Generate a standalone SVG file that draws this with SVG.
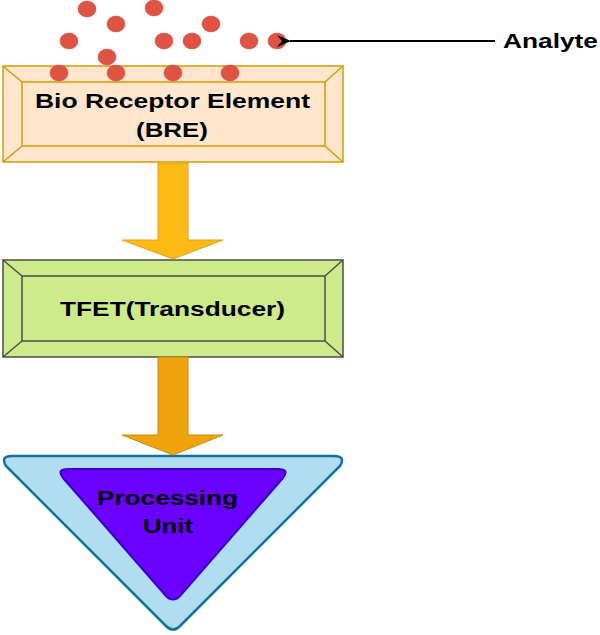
<svg xmlns="http://www.w3.org/2000/svg" width="600" height="635" viewBox="0 0 600 635">
<style>
.t{font-family:"Liberation Sans",Arial,sans-serif;font-weight:bold;fill:#000;font-size:20px}
.dot{fill:#E05243;stroke:#C8473A;stroke-width:0.5}
.bev1{stroke:#D79B00;stroke-width:1.5;fill:#FFE6CC}
.bev2{stroke:#4D4D4D;stroke-width:1.5;fill:#CDEB8B}
</style>
<defs>
<marker id="ah" markerWidth="14" markerHeight="12" refX="1" refY="6" orient="auto" markerUnits="userSpaceOnUse">
<path d="M14,0 L0,6 L14,12 L9,6 Z" fill="#000"/>
</marker>
</defs>
<g id="analyte-dots">
<ellipse class="dot" cx="87" cy="9" rx="9" ry="8"/>
<ellipse class="dot" cx="154" cy="8" rx="9" ry="8"/>
<ellipse class="dot" cx="116" cy="24" rx="9" ry="8"/>
<ellipse class="dot" cx="211" cy="24" rx="9" ry="8"/>
<ellipse class="dot" cx="69" cy="41" rx="9" ry="8"/>
<ellipse class="dot" cx="164" cy="41" rx="9" ry="8"/>
<ellipse class="dot" cx="192" cy="41" rx="9" ry="8"/>
<ellipse class="dot" cx="249" cy="41" rx="9" ry="8"/>
<ellipse class="dot" cx="277" cy="41" rx="9" ry="8"/>
<ellipse class="dot" cx="107" cy="57" rx="9" ry="8"/>
</g>
<g id="bre">
<rect class="bev1" x="3" y="66" width="340" height="96"/>
<rect class="bev1" x="22" y="82" width="303" height="64"/>
<path d="M3,66 L22,82 M343,66 L325,82 M3,162 L22,146 M343,162 L325,146" stroke="#D79B00" stroke-width="1.5"/>
<text class="t" x="35" y="108" textLength="275" lengthAdjust="spacingAndGlyphs">Bio Receptor Element</text>
<text class="t" x="136" y="137" textLength="72" lengthAdjust="spacingAndGlyphs">(BRE)</text>
</g>
<g id="bound-dots">
<ellipse class="dot" cx="59" cy="73" rx="9" ry="8"/>
<ellipse class="dot" cx="116" cy="73" rx="9" ry="8"/>
<ellipse class="dot" cx="173" cy="73" rx="9" ry="8"/>
<ellipse class="dot" cx="230" cy="73" rx="9" ry="8"/>
</g>
<g id="tfet">
<rect class="bev2" x="3" y="260" width="340" height="97"/>
<rect class="bev2" x="22" y="276" width="303" height="65"/>
<path d="M3,260 L22,276 M343,260 L325,276 M3,357 L22,341 M343,357 L325,341" stroke="#4D4D4D" stroke-width="1.5"/>
<text class="t" x="60" y="316" textLength="225" lengthAdjust="spacingAndGlyphs">TFET(Transducer)</text>
</g>
<g id="processing">
<path d="M12,456 L334,456 Q346,456 340,466 L180,626 Q173,633 166,626 L6,466 Q0,456 12,456 Z" fill="#B1DDF0" stroke="#10739E" stroke-width="2.5"/>
<path d="M68,469 L278,469 Q290,469 283,478 L180,596 Q173,603 166,596 L63,478 Q56,469 68,469 Z" fill="#6A00FF" stroke="#3700CC" stroke-width="2"/>
<text class="t" x="97" y="505" font-size="21" textLength="141" lengthAdjust="spacingAndGlyphs">Processing</text>
<text class="t" x="143" y="533" font-size="21" textLength="50" lengthAdjust="spacingAndGlyphs">Unit</text>
</g>
<g id="connectors">
<path d="M158,163 L188,163 L188,240 L223,240 L173,259 L122,240 L158,240 Z" fill="#FDBA13" stroke="#E0A020" stroke-width="1"/>
<path d="M158,357 L188,357 L188,435 L223,435 L173,455 L122,435 L158,435 Z" fill="#F0A30A" stroke="#C98A10" stroke-width="1"/>
<line x1="495" y1="41" x2="290" y2="41" stroke="#000" stroke-width="2" marker-end="url(#ah)"/>
</g>
<text class="t" x="503" y="48" textLength="95" lengthAdjust="spacingAndGlyphs">Analyte</text>
</svg>
